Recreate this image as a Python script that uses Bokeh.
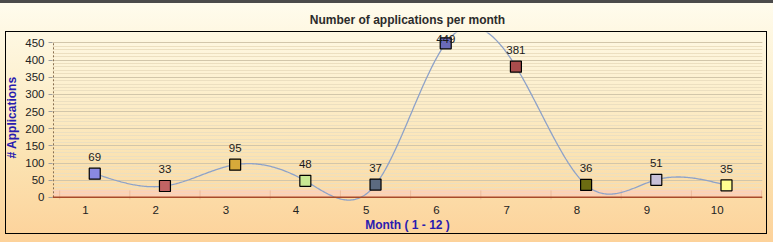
import numpy as np
from bokeh.plotting import figure
from bokeh.models import Range1d, FixedTicker, ColumnDataSource, Span, InlineStyleSheet
from bokeh.core.properties import value
from bokeh.embed import file_html
from bokeh.resources import INLINE

# ---------------- data ----------------
months = [1, 2, 3, 4, 5, 6, 7, 8, 9, 10]
applications = [69, 33, 95, 48, 37, 449, 381, 36, 51, 35]
marker_colors = ["#8a88e2", "#c26464", "#d6aa3a", "#c8e894", "#5c6a80",
                 "#6a6ab8", "#a84c4c", "#6c6c12", "#c8c0d8", "#ffff90"]
y_ticks = list(range(0, 451, 50))
y_minor = list(range(0, 451, 10))
title_text = "Number of applications per month"
x_title = "Month ( 1 - 12 )"
y_title = "# Applications"

# ---------------- layout / style ----------------
W, H = 773, 242
B_L, B_R, B_T, B_B = 52, 11, 32, 40
X0, X1 = 0.53, 10.645
Y0, Y1 = -15.17, 480.6
MARK_DX = 0.132          # 3-D depth shift of markers relative to labels
FONT = "Liberation Sans"
BLUE = "#2a1cb0"

p = figure(width=W, height=H, output_backend="svg", toolbar_location=None,
           x_range=Range1d(X0, X1), y_range=Range1d(Y0, Y1),
           min_border_left=B_L, min_border_right=B_R,
           min_border_top=B_T, min_border_bottom=B_B,
           title=title_text)

p.border_fill_alpha = 0
p.background_fill_alpha = 0
p.outline_line_color = None
p.styles = {
    "background-image": "linear-gradient(to bottom, #fffcee 0%, #fdf2d4 30%, #fbe3b2 65%, #fdd29a 100%)",
    "box-shadow": "inset 0 3px 0 #4b4b4b",
}
p.stylesheets = [InlineStyleSheet(css="""
:host { position: relative; }
:host::after {
  content: ''; position: absolute; left: 5px; top: 31px;
  width: 760px; height: 201px; border: 1px solid #000;
  pointer-events: none; z-index: 10;
}
""")]

p.title.align = "center"
p.title.text_font = FONT
p.title.text_font_size = "12px"
p.title.text_font_style = "bold"
p.title.text_color = "#2b2b2b"
p.title.standoff = 11

# floor band
p.quad(left=X0, right=X1, bottom=0, top=22, fill_color="#ffc6c0",
       fill_alpha=0.45, line_color=None)

# y axis
ya = p.yaxis[0]
ya.ticker = FixedTicker(ticks=y_ticks, minor_ticks=y_minor)
ya.axis_label = y_title
ya.axis_label_text_font = FONT
ya.axis_label_text_font_size = "12px"
ya.axis_label_text_font_style = "bold"
ya.axis_label_text_color = BLUE
ya.axis_label_standoff = 3
ya.axis_line_color = None
ya.major_tick_out = 4
ya.major_tick_in = 0
ya.major_tick_line_color = "#a0a0a0"
ya.minor_tick_line_color = None
ya.major_label_standoff = 4
ya.major_label_text_font = FONT
ya.major_label_text_font_size = "11.5px"
ya.major_label_text_color = "#222222"

p.ygrid.grid_line_color = "#d2c6aa"
p.ygrid.minor_grid_line_color = "#ecdfc0"
p.xgrid.visible = False

# dashed vertical axis line from 0 to the top tick
px_x = (W - B_L - B_R) / (X1 - X0)
p.segment(x0=X0 + 1.0 / px_x, y0=0, x1=X0 + 1.0 / px_x, y1=y_ticks[-1],
          line_color="#8a7050", line_dash="2 2", line_width=1)

# x axis
xa = p.xaxis[0]
xa.ticker = FixedTicker(ticks=months)
xa.axis_line_color = None
xa.major_tick_in = 0
xa.major_tick_out = 0
xa.minor_tick_line_color = None
xa.major_label_standoff = 3
xa.major_label_text_font = FONT
xa.major_label_text_font_size = "11.5px"
xa.major_label_text_color = "#222222"
xa.axis_label = x_title
xa.axis_label_text_font = FONT
xa.axis_label_text_font_size = "12px"
xa.axis_label_text_font_style = "bold"
xa.axis_label_text_color = BLUE
xa.axis_label_standoff = 1

# floor division marks and base line at zero
bounds = [m + MARK_DX - 0.5 for m in months] + [months[-1] + MARK_DX + 0.5]
p.segment(x0=bounds, y0=[-6] * len(bounds), x1=bounds, y1=[20] * len(bounds),
          line_color="#ecbc9c", line_width=1)
p.add_layout(Span(location=0, dimension="width", line_color="#a84a2a",
                  line_width=1.5))

# ---------------- natural cubic spline through the points ----------------
xs = np.array(months, dtype=float) + MARK_DX
ys = np.array(applications, dtype=float)
n = len(xs)
h = np.diff(xs)
A = np.zeros((n, n))
r = np.zeros(n)
A[0, 0] = A[-1, -1] = 1.0
for i in range(1, n - 1):
    A[i, i - 1] = h[i - 1]
    A[i, i] = 2 * (h[i - 1] + h[i])
    A[i, i + 1] = h[i]
    r[i] = 6 * ((ys[i + 1] - ys[i]) / h[i] - (ys[i] - ys[i - 1]) / h[i - 1])
M = np.linalg.solve(A, r)
cx, cy = [], []
for i in range(n - 1):
    t = np.linspace(0, 1, 60)
    cx.extend(xs[i] + t * h[i])
    cy.extend((1 - t) * ys[i] + t * ys[i + 1]
              - h[i] ** 2 * t * (1 - t) / 6 * ((2 - t) * M[i] + (1 + t) * M[i + 1]))
p.line(cx, cy, line_color="#8ea2c8", line_width=1.3)

# ---------------- markers and value labels ----------------
frame_h = H - B_T - B_B
px_per_unit = frame_h / (Y1 - Y0)
offsets = []
for v in applications:
    room = (Y1 - v) * px_per_unit          # px from marker centre to frame top
    offsets.append(-16.5 if room - 16.5 >= 6 else -(room - 6))

src = ColumnDataSource(dict(x=list(xs), y=applications, c=marker_colors,
                            lbl=[str(v) for v in applications], off=offsets))
p.scatter("x", "y", source=src, marker="square", size=11, fill_color="c",
          line_color="black", line_width=1.2)
p.text("x", "y", text="lbl", source=src, y_offset="off",
       text_font=value(FONT), text_font_size="11.5px", text_color="#1a1a1a",
       text_align="center", text_baseline="middle")

open("out.html", "w").write(file_html(p, INLINE))
